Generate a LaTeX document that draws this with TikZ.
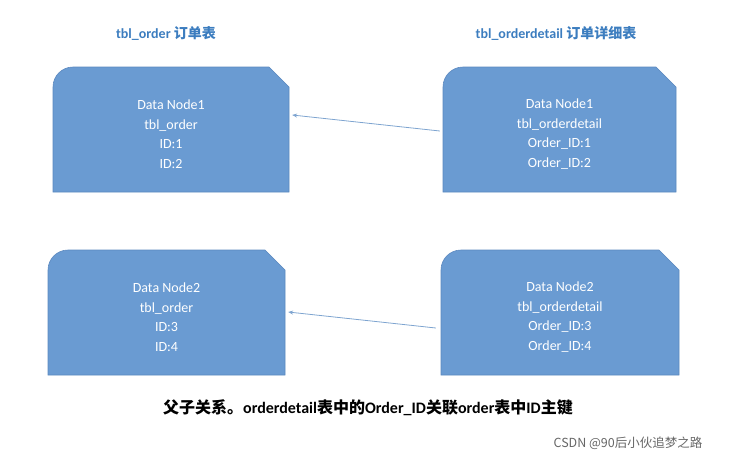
\documentclass[tikz,border=0pt]{standalone}
\usepackage{fontspec}
\setmainfont{Carlito}
\newfontfamily\cjk{Noto Sans CJK SC}
\begin{document}
\begin{tikzpicture}[x=1pt,y=-1pt,
  box/.style={minimum width=236pt,minimum height=125pt,inner sep=0pt,text=white,font=\fontsize{14}{19.5}\selectfont,align=center},
  conn/.style={draw=arrowc,line width=0.8pt,-{Stealth[length=5pt,width=4pt]}},
  ttl/.style={text=titlec,font=\bfseries\fontsize{14}{16}\selectfont}]
\usetikzlibrary{arrows.meta}
\definecolor{boxc}{HTML}{6A9BD2}
\definecolor{boxd}{HTML}{5B88BF}
\definecolor{titlec}{HTML}{3C7DBF}
\definecolor{arrowc}{HTML}{7EA4D0}
\useasboundingbox (0,0) rectangle (743,463);
\newcommand\blob[4]{% x1 y1 x2 y2
  \fill[boxc,draw=boxd,line width=0.6pt] (#1,#2+20) arc[start angle=180,end angle=270,radius=20] -- (#3-20,#2) -- (#3,#2+20) -- (#3,#4) -- (#1,#4) -- cycle;
}
\blob{53}{67}{289}{192}
\blob{443}{67}{676}{192}
\blob{48}{250}{285}{375}
\blob{441}{250}{679}{375}
\node[box] (a) at (171,134) {Data Node1\\tbl\_order\\ID:1\\ID:2};
\node[box,minimum width=233pt] (b) at (559.5,134) {Data Node1\\tbl\_orderdetail\\Order\_ID:1\\Order\_ID:2};
\node[box,minimum width=237pt] (c) at (166.5,317) {Data Node2\\tbl\_order\\ID:3\\ID:4};
\node[box,minimum width=238pt] (d) at (560,317) {Data Node2\\tbl\_orderdetail\\Order\_ID:3\\Order\_ID:4};
\draw[conn] ([xshift=-3pt,yshift=3pt]b.west) -- ([xshift=3pt,yshift=19pt]a.east);
\draw[conn] ([xshift=-5pt,yshift=-11pt]d.west) -- ([xshift=3pt,yshift=5pt]c.east);
\node[ttl] (t1) at (166,33) {tbl\_order {\cjk 订单表}};
\node[ttl] (t2) at (556,33) {tbl\_orderdetail {\cjk 订单详细表}};
\node[font=\bfseries\fontsize{16}{18}\selectfont] (cap) at (368,408) {{\cjk 父子关系。}orderdetail{\cjk 表中的}Order\_ID{\cjk 关联}order{\cjk 表中}ID{\cjk 主键}};
\node[text=black!60,font=\cjk\fontsize{12.5}{14}\selectfont] (wm) at (628,443) {CSDN @90{后小伙追梦之路}};
\end{tikzpicture}
\end{document}
